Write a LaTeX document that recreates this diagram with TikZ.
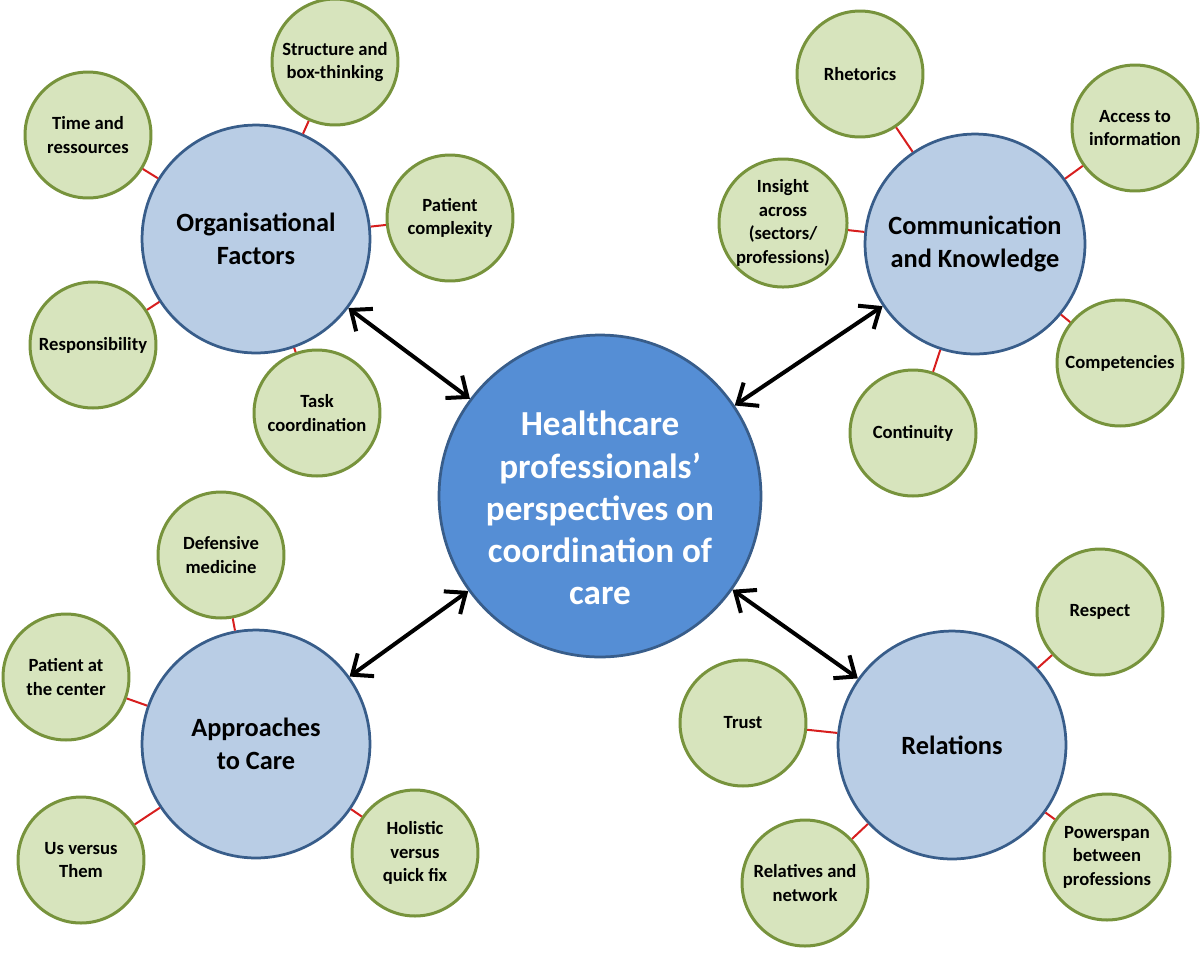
\documentclass[tikz,border=0pt]{standalone}
\usepackage{fontspec}
\setmainfont{Carlito}
\usetikzlibrary{arrows.meta}
\definecolor{hubfill}{RGB}{185,205,229}
\definecolor{corefill}{RGB}{85,142,213}
\definecolor{bluerim}{RGB}{56,93,138}
\definecolor{leaffill}{RGB}{215,228,189}
\definecolor{leafrim}{RGB}{119,147,60}
\definecolor{spokered}{RGB}{215,30,30}

\begin{document}
\begin{tikzpicture}[x=0.02cm,y=-0.02cm,
  core/.style={circle,draw=bluerim,line width=0.55mm,fill=corefill,minimum size=6.44cm,inner sep=0pt},
  coretext/.style={text=white,font=\fontsize{20}{24}\selectfont\bfseries,align=center,inner sep=0pt},
  hub/.style={circle,draw=bluerim,line width=0.55mm,fill=hubfill,minimum size=4.56cm,
    font=\fontsize{15}{18.8}\selectfont\bfseries,align=center,inner sep=0pt},
  leaf/.style={circle,draw=leafrim,line width=0.6mm,fill=leaffill,minimum size=2.52cm,
    font=\fontsize{10.6}{13.4}\selectfont\bfseries,align=center,inner sep=0pt},
  spoke/.style={draw=spokered,line width=0.4mm},
  link/.style={{Straight Barb[length=3.4mm,width=5.6mm]}-{Straight Barb[length=3.4mm,width=5.6mm]},line width=0.8mm}]
\useasboundingbox (0,0) rectangle (1200,958);
% centre
\node[core] (care) at (600,496) {};
\node[coretext] (caretext) at (600,508) {Healthcare\\professionals'\\perspectives on\\coordination of\\care};
% themes
\node[hub] (org) at (256,239) {Organisational\\Factors};
\node[hub,minimum size=4.4cm] (comm) at (975,244) {Communication\\and Knowledge};
\node[hub] (appr) at (256,744) {Approaches\\to Care};
\node[hub] (rel) at (952,745) {Relations};
% organisational factors
\node[leaf] (struct) at (335,62) {Structure and\\box-thinking};
\node[leaf] (time) at (88,135) {Time and\\ressources};
\node[leaf] (cplx) at (450,218) {Patient\\complexity};
\node[leaf] (resp) at (93,345) {Responsibility};
\node[leaf] (task) at (317,413) {Task\\coordination};
% communication and knowledge
\node[leaf] (rhet) at (860,74) {Rhetorics};
\node[leaf] (access) at (1135,128) {Access to\\information};
\node[leaf] (insight) at (783,223) {Insight\\across\\(sectors/\\professions)};
\node[leaf] (comp) at (1120,363) {Competencies};
\node[leaf] (cont) at (913,433) {Continuity};
% approaches to care
\node[leaf] (defm) at (221,555) {Defensive\\medicine};
\node[leaf] (pcent) at (66,677) {Patient at\\the center};
\node[leaf] (usthem) at (81,860) {Us versus\\Them};
\node[leaf] (holist) at (415,853) {Holistic\\versus\\quick fix};
% relations
\node[leaf] (respect) at (1100,612) {Respect};
\node[leaf] (trust) at (743,723) {Trust};
\node[leaf] (power) at (1107,857) {Powerspan\\between\\professions};
\node[leaf] (relnet) at (805,883) {Relatives and\\network};
% spokes
\foreach \h/\l in {org/struct,org/time,org/cplx,org/resp,org/task,
                   comm/rhet,comm/access,comm/insight,comm/comp,comm/cont,
                   appr/defm,appr/pcent,appr/usthem,appr/holist,
                   rel/respect,rel/trust,rel/power,rel/relnet}
  \draw[spoke] (\h) -- (\l);
% arrows
\draw[link] (org) -- (care);
\draw[link] (comm) -- (care);
\draw[link] (appr) -- (care);
\draw[link] (rel) -- (care);
\end{tikzpicture}
\end{document}
